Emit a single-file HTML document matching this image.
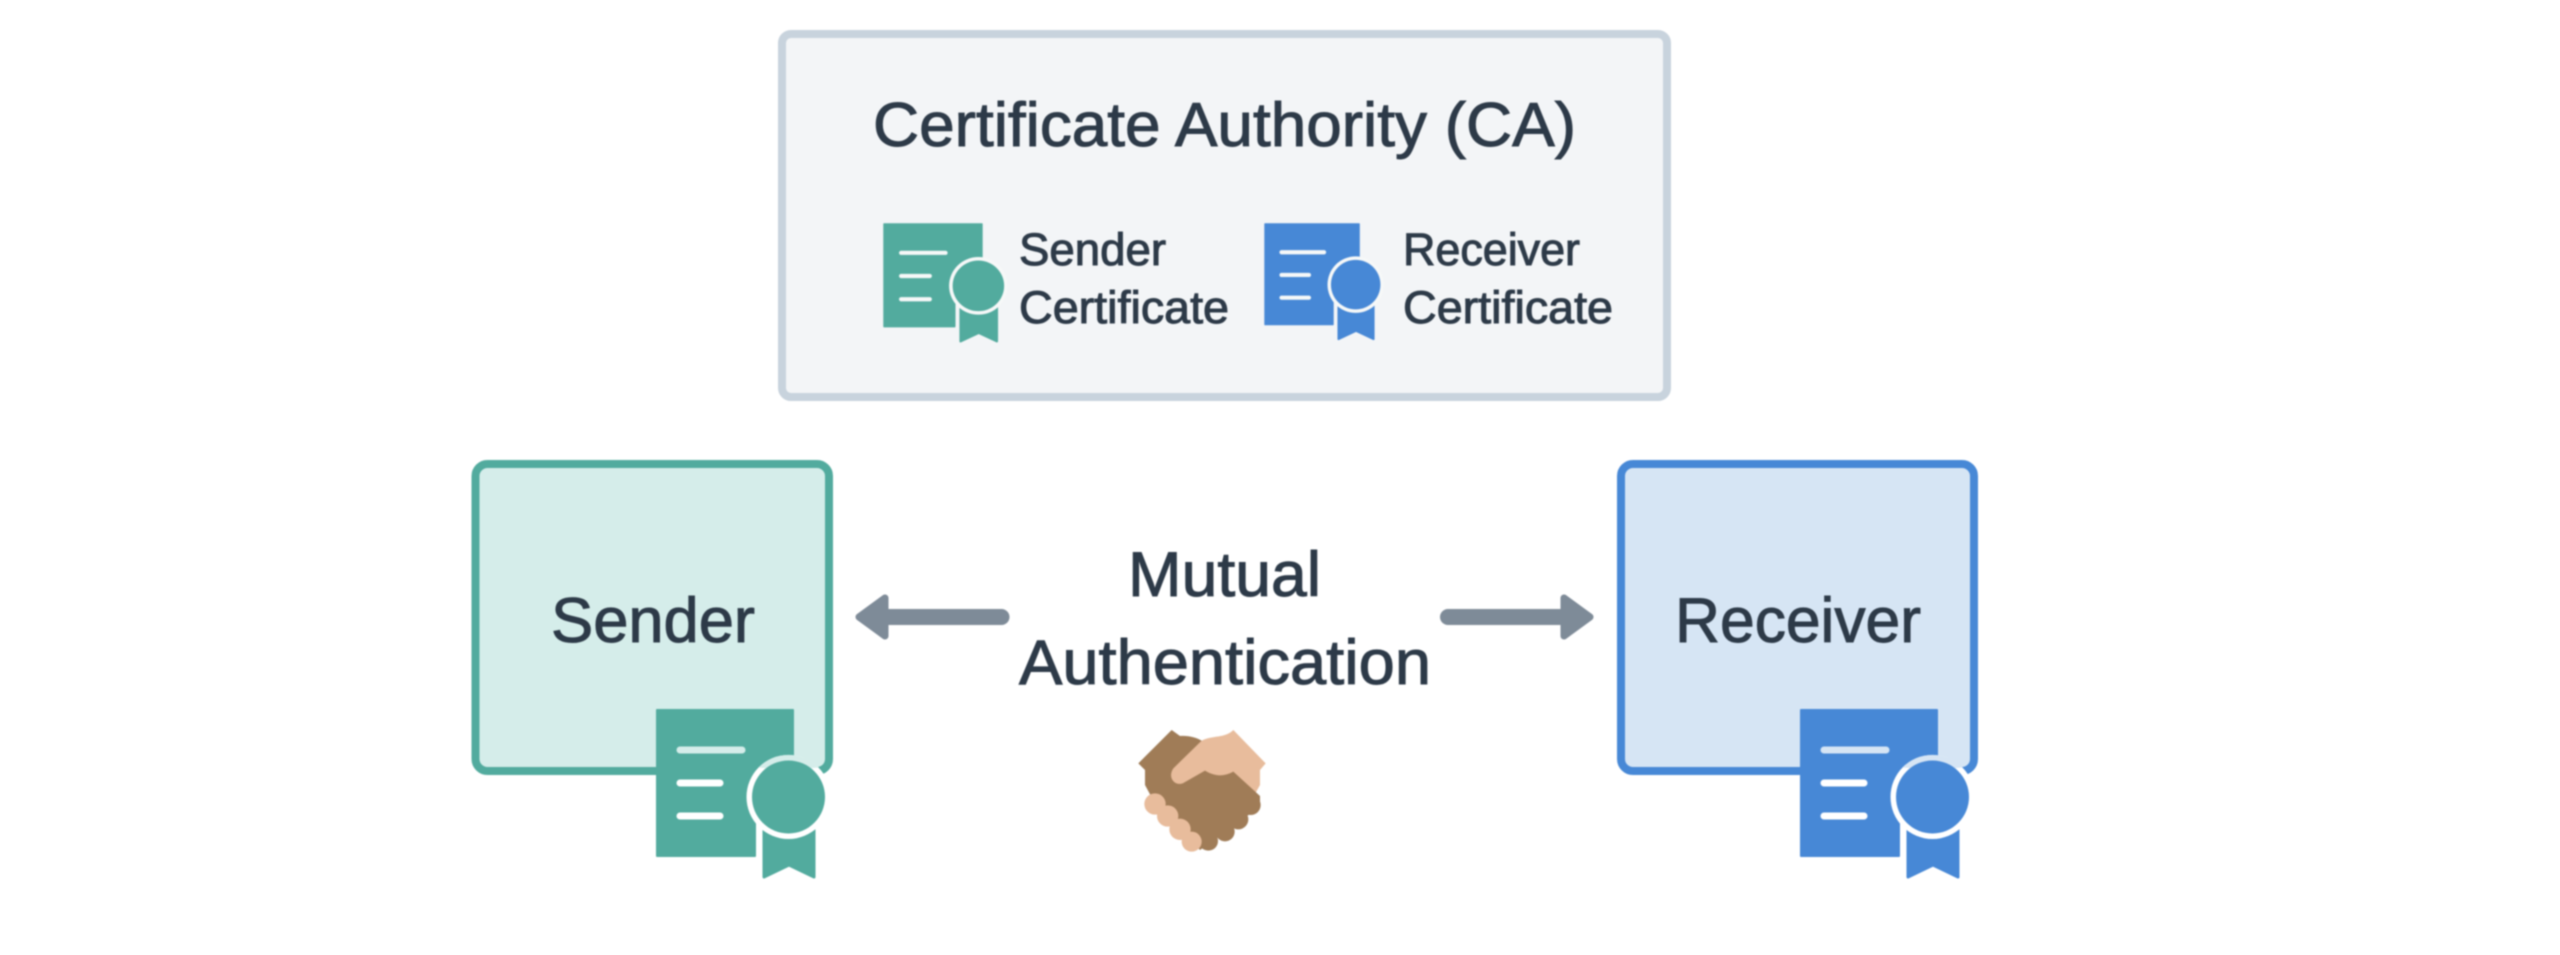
<!DOCTYPE html>
<html><head><meta charset="utf-8"><style>
html,body{margin:0;padding:0;background:#fff;width:2560px;height:955px;overflow:hidden}
svg{display:block;filter:blur(.8px)}
text{font-family:"Liberation Sans",sans-serif;fill:#2d3a48;stroke:#2d3a48;stroke-width:1}
</style></head><body>
<svg width="2560" height="955" viewBox="0 0 2560 955" xmlns="http://www.w3.org/2000/svg">
<rect width="2560" height="955" fill="#fff"/>
<!-- CA box -->
<rect x="782" y="34" width="885" height="363" rx="9" fill="#f3f5f7" stroke="#c8d3dd" stroke-width="8"/>
<text x="873" y="146" font-size="62" textLength="703" lengthAdjust="spacingAndGlyphs">Certificate Authority (CA)</text>
<text x="1019" y="265" font-size="45" textLength="147" lengthAdjust="spacingAndGlyphs">Sender</text>
<text x="1019" y="323" font-size="45" textLength="210" lengthAdjust="spacingAndGlyphs">Certificate</text>
<text x="1403" y="265" font-size="45" textLength="177" lengthAdjust="spacingAndGlyphs">Receiver</text>
<text x="1403" y="323" font-size="45" textLength="210" lengthAdjust="spacingAndGlyphs">Certificate</text>
<!-- small green cert -->
<g transform="translate(884 224) scale(.715 .703)">
<path d="M0 0H137V90H99V146H0Z" fill="#52ab9e" stroke="#52ab9e" stroke-width="2" stroke-linejoin="round"/>
<path d="M24 41H86M24 74H64M24 107H64" stroke="#f6f8f8" stroke-width="6" stroke-linecap="round"/>
<path d="M107 118H158V167L132.500 155L107 167Z" fill="#52ab9e" stroke="#52ab9e" stroke-width="3" stroke-linejoin="round"/>
<circle cx="132" cy="88" r="41" fill="#f6f8f8"/><circle cx="132" cy="88" r="36" fill="#52ab9e"/>
</g>
<!-- small blue cert -->
<g transform="translate(1265 224) scale(.687 .689)">
<path d="M0 0H137V90H99V146H0Z" fill="#4788d6" stroke="#4788d6" stroke-width="2" stroke-linejoin="round"/>
<path d="M24 41H86M24 74H64M24 107H64" stroke="#f6f8f8" stroke-width="6" stroke-linecap="round"/>
<path d="M107 118H158V167L132.500 155L107 167Z" fill="#4788d6" stroke="#4788d6" stroke-width="3" stroke-linejoin="round"/>
<circle cx="132" cy="88" r="41" fill="#f6f8f8"/><circle cx="132" cy="88" r="36" fill="#4788d6"/>
</g>
<!-- Sender -->
<rect x="475.500" y="464" width="353.500" height="307" rx="12" fill="#d5edea" stroke="#52ab9e" stroke-width="8"/>
<text x="551" y="642" font-size="63" textLength="204" lengthAdjust="spacingAndGlyphs">Sender</text>
<g transform="translate(657 710)">
<path d="M0 0H136V90H98V146H0Z" fill="#52ab9e" stroke="#52ab9e" stroke-width="2" stroke-linejoin="round"/>
<path d="M23 40H85" stroke="#d5edea" stroke-width="7" stroke-linecap="round"/>
<path d="M23 73H63M23 106H63" stroke="#fff" stroke-width="7" stroke-linecap="round"/>
<path d="M107 118H157V167L132 155L107 167Z" fill="#52ab9e" stroke="#52ab9e" stroke-width="3" stroke-linejoin="round"/>
<circle cx="131.500" cy="87" r="42" fill="#fff"/>
<path d="M101.500 57.500A42 42 0 0 1 161.500 57.500L131.500 60Z" fill="#d5edea"/>
<circle cx="131.500" cy="87" r="36.500" fill="#52ab9e"/>
</g>
<!-- Receiver -->
<rect x="1621" y="464" width="353" height="307" rx="12" fill="#d6e5f4" stroke="#4788d6" stroke-width="8"/>
<text x="1675" y="642" font-size="63" textLength="246" lengthAdjust="spacingAndGlyphs">Receiver</text>
<g transform="translate(1801 710)">
<path d="M0 0H136V90H98V146H0Z" fill="#4788d6" stroke="#4788d6" stroke-width="2" stroke-linejoin="round"/>
<path d="M23 40H85" stroke="#d6e5f4" stroke-width="7" stroke-linecap="round"/>
<path d="M23 73H63M23 106H63" stroke="#fff" stroke-width="7" stroke-linecap="round"/>
<path d="M107 118H157V167L132 155L107 167Z" fill="#4788d6" stroke="#4788d6" stroke-width="3" stroke-linejoin="round"/>
<circle cx="131.500" cy="87" r="42" fill="#fff"/>
<path d="M101.500 57.500A42 42 0 0 1 161.500 57.500L131.500 60Z" fill="#d6e5f4"/>
<circle cx="131.500" cy="87" r="36.500" fill="#4788d6"/>
</g>
<!-- center label -->
<text x="1128" y="596" font-size="63" textLength="193" lengthAdjust="spacingAndGlyphs">Mutual</text>
<text x="1019" y="684" font-size="63" textLength="412" lengthAdjust="spacingAndGlyphs">Authentication</text>
<!-- arrows -->
<path d="M1001.500 617H888" stroke="#7e8b98" stroke-width="16" stroke-linecap="round"/>
<path d="M859 617L885 598V636Z" fill="#7e8b98" stroke="#7e8b98" stroke-width="7" stroke-linejoin="round"/>
<path d="M1448 617H1561" stroke="#7e8b98" stroke-width="16" stroke-linecap="round"/>
<path d="M1590 617L1564 598V636Z" fill="#7e8b98" stroke="#7e8b98" stroke-width="7" stroke-linejoin="round"/>
<!-- handshake -->
<g transform="translate(1100 710) scale(.33333)">
<!-- light hand back -->
<path d="M400 60L497 160L480 180V225L465 252L380 200L320 90C350 76 378 82 400 60Z" fill="#e8bc9c"/>
<!-- dark hand -->
<path d="M115 160L215 60L240 78C265 76 290 82 310 95L320 182L400 185L480 258V290L300 420L170 290L135 225V180Z" fill="#a07c57"/>
<circle cx="452" cy="285" r="30" fill="#a07c57"/><circle cx="415" cy="328" r="30" fill="#a07c57"/><circle cx="375" cy="365" r="29" fill="#a07c57"/><circle cx="325" cy="393" r="29" fill="#a07c57"/>
<!-- light thumb -->
<path d="M305 92C335 76 375 82 400 70L420 160L398 186C370 200 345 200 315 182L252 218C228 232 200 205 220 175Z" fill="#e8bc9c"/>
<circle cx="165" cy="282" r="32" fill="#e8bc9c"/><circle cx="203" cy="318" r="32" fill="#e8bc9c"/><circle cx="240" cy="358" r="32" fill="#e8bc9c"/><circle cx="275" cy="395" r="30" fill="#e8bc9c"/>
</g>
</svg>
</body></html>
